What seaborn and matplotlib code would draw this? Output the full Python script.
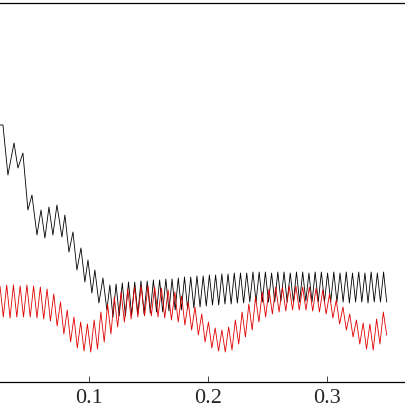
import numpy as np
import matplotlib
matplotlib.use("Agg")
import matplotlib.pyplot as plt
import seaborn as sns

# black trace: irregular decay part (x, height), then steady oscillation extremes
black_head_x = [-0.004, 0.0277, 0.0319, 0.0370, 0.0403, 0.0445, 0.0487, 0.0521, 0.0563,
                0.0597, 0.0630, 0.0664, 0.0697, 0.0731, 0.0773, 0.0798, 0.0832, 0.0866,
                0.0899, 0.0933, 0.0966, 0.0992, 0.1025, 0.1050, 0.1084, 0.1118, 0.1151]
black_head_y = [257, 257, 207, 239, 214, 229, 172, 187, 147, 172, 144, 175, 147, 177,
                145, 167, 130, 150, 112, 134, 100, 122, 89, 112, 79, 104, 72]
black_tail_y = [97, 65, 98, 66, 99, 66, 100, 67, 100, 68,
                101, 68, 101, 69, 102, 70, 102, 70, 103, 71, 103, 72, 104, 72, 105, 73, 105, 74, 106, 75,
                106, 76, 107, 77, 107, 77, 108, 78, 108, 78, 109, 79, 109, 79, 109, 80, 110, 80, 110, 80,
                110, 80, 109, 80, 110, 81, 110, 80, 109, 80, 110, 80, 110, 81, 109, 80, 110, 80, 110, 80, 109, 80,
                110, 80, 109, 80, 110, 79, 109, 80, 110, 80, 109, 79, 110, 80, 109, 80, 110, 80]
black_tail_start, black_tail_end = 0.1176, 0.3504

# red trace: (peak, trough) extremes from left edge to end
red_y = [96, 65, 97, 64, 97, 65, 96, 65, 97, 65, 96, 64, 95, 63, 93, 61,
         88, 56, 80, 48, 72, 40, 65, 34, 60, 31, 58, 30,
         62, 33, 70, 40, 78, 48, 85, 55, 90, 60,
         93, 63, 95, 65, 96, 66, 96, 66, 95, 65, 94, 64, 92, 62, 90, 60, 86, 57,
         80, 52, 75, 47, 68, 40, 60, 34, 54, 31, 52, 30,
         55, 32, 62, 38, 70, 45, 78, 52, 85, 60, 90, 65, 93, 68, 95, 70,
         95, 71, 96, 72, 96, 72, 95, 72, 95, 71, 94, 70, 92, 68,
         88, 64, 82, 58, 75, 52, 68, 45, 62, 38, 59, 33,
         58, 32, 63, 38, 70, 47]
red_start, red_end = 0.0252, 0.3504

xticks = [0.1, 0.2, 0.3]
xtick_labels = ["0.1", "0.2", "0.3"]

sns.set_style("white")
plt.rcParams["font.family"] = ["Liberation Serif", "DejaVu Serif"]

black_x = np.concatenate([black_head_x, np.linspace(black_tail_start, black_tail_end, len(black_tail_y))])
black_y = np.concatenate([black_head_y, black_tail_y])
red_x = np.linspace(red_start, red_end, len(red_y))

fig = plt.figure(figsize=(4.05, 4.05), dpi=100)
ax = fig.add_axes([-30 / 405, 23 / 405, 440 / 405, 379 / 405])
sns.lineplot(x=black_x, y=black_y, ax=ax, color="black", linewidth=0.6, sort=False)
sns.lineplot(x=red_x, y=red_y, ax=ax, color="#e00000", linewidth=0.6, sort=False)

ax.set_xlim(0, 0.37)
ax.set_ylim(0, 379)
ax.set_xticks(xticks)
ax.set_xticklabels(xtick_labels, fontsize=16)
ax.set_yticks([])
ax.tick_params(axis="x", direction="in", length=4, width=0.6, pad=5, bottom=True, top=False)
for s in ax.spines.values():
    s.set_color("black")
    s.set_linewidth(0.9)

fig.savefig("out.png", dpi=100)
